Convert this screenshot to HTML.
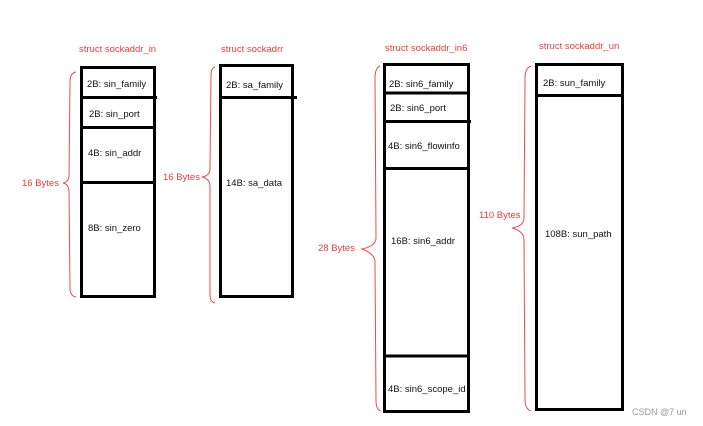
<!DOCTYPE html>
<html><head><meta charset="utf-8"><style>
html,body{margin:0;padding:0;background:#fff;width:703px;height:426px;overflow:hidden}
svg{display:block}
text{font-family:"Liberation Sans",sans-serif;font-size:9.5px}
.t{fill:#111}
.r{fill:#ee3b3b}
.b{fill:none;stroke:#000;stroke-width:3}
.br{fill:none;stroke:#f04a4a;stroke-width:1}
</style></head><body>
<svg width="703" height="426" viewBox="0 0 703 426">
<!-- titles -->
<text class="r" x="79" y="52">struct sockaddr_in</text>
<text class="r" x="221" y="52">struct sockadrr</text>
<text class="r" x="385" y="51">struct sockaddr_in6</text>
<text class="r" x="539" y="49">struct sockaddr_un</text>

<!-- box 1 -->
<rect class="b" x="81.5" y="67.5" width="73" height="229"/>
<line class="b" x1="81" y1="97.5" x2="157" y2="97.5"/>
<line class="b" x1="81" y1="127.5" x2="155" y2="127.5"/>
<line class="b" x1="81" y1="182.5" x2="155" y2="182.5"/>
<text class="t" x="87" y="87">2B: sin_family</text>
<text class="t" x="89" y="117">2B: sin_port</text>
<text class="t" x="88" y="156">4B: sin_addr</text>
<text class="t" x="88" y="231">8B: sin_zero</text>

<!-- box 2 -->
<rect class="b" x="220.5" y="65.5" width="72" height="231"/>
<line class="b" x1="220" y1="97.5" x2="297" y2="97.5"/>
<text class="t" x="226" y="88">2B: sa_family</text>
<text class="t" x="226" y="186">14B: sa_data</text>

<!-- box 3 -->
<rect class="b" x="384.5" y="64.5" width="84" height="347"/>
<line class="b" x1="384" y1="93" x2="469" y2="93"/>
<line class="b" x1="384" y1="121.5" x2="471" y2="121.5"/>
<line class="b" x1="384" y1="168.5" x2="469" y2="168.5"/>
<line class="b" x1="384" y1="356" x2="469" y2="356"/>
<text class="t" x="389" y="87">2B: sin6_family</text>
<text class="t" x="390" y="111">2B: sin6_port</text>
<text class="t" x="388" y="149">4B: sin6_flowinfo</text>
<text class="t" x="391" y="244">16B: sin6_addr</text>
<text class="t" x="388" y="392">4B: sin6_scope_id</text>

<!-- box 4 -->
<rect class="b" x="536.5" y="64.5" width="86" height="345"/>
<line class="b" x1="536" y1="95.5" x2="623" y2="95.5"/>
<text class="t" x="543" y="86">2B: sun_family</text>
<text class="t" x="545" y="237">108B: sun_path</text>

<!-- braces -->
<path class="br" d="M76,72 Q70,73 70,82 L69,175 Q69,182 63,183 Q69,184 69,192 L70,288 Q70,296 76,297"/>
<path class="br" d="M215,67 Q211,68 211,76 L210,168 Q210,176 202,177 Q210,179 210,186 L210,294 Q210,302 215,303"/>
<path class="br" d="M380,66 Q375,68 375,78 L376,238 Q376,246 362,249 Q375,254 375,262 L376,400 Q376,410 381,411"/>
<path class="br" d="M531,66 Q525,68 525,78 L524,218 Q524,226 512,228 Q524,231 524,240 L525,400 Q525,409 531,411"/>

<text class="r" x="22" y="186">16 Bytes</text>
<text class="r" x="163" y="180">16 Bytes</text>
<text class="r" x="318" y="251">28 Bytes</text>
<text class="r" x="479" y="218">110 Bytes</text>

<text x="632" y="415" style="fill:#999;font-size:9px">CSDN @7 un</text>
</svg>
</body></html>
